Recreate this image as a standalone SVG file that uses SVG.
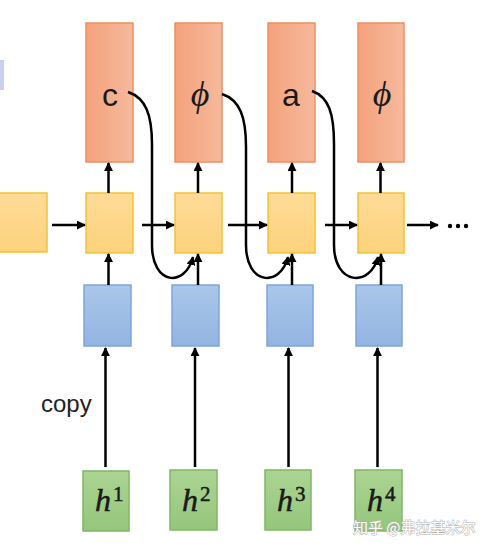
<svg xmlns="http://www.w3.org/2000/svg" width="482" height="547" viewBox="0 0 482 547">
<defs>
<linearGradient id="gOr" x1="0" y1="0" x2="1" y2="0"><stop offset="0" stop-color="#f4a27c"/><stop offset="1" stop-color="#f6b99c"/></linearGradient>
<linearGradient id="gYe" x1="0" y1="0" x2="0" y2="1"><stop offset="0" stop-color="#fedb97"/><stop offset="1" stop-color="#fdd27c"/></linearGradient>
<linearGradient id="gBl" x1="0" y1="0" x2="0" y2="1"><stop offset="0" stop-color="#aac7eb"/><stop offset="1" stop-color="#92b4e1"/></linearGradient>
<linearGradient id="gGr" x1="0" y1="0" x2="0" y2="1"><stop offset="0" stop-color="#acd493"/><stop offset="1" stop-color="#94c67b"/></linearGradient>
<marker id="ah" viewBox="0 0 10 10" refX="9" refY="5" markerWidth="9" markerHeight="9" markerUnits="userSpaceOnUse" orient="auto"><path d="M0,0 L10,5 L0,10 Z" fill="#000"/></marker>
</defs>
<style>
.or{fill:url(#gOr);stroke:#f08e5e;stroke-width:1.5}
.ye{fill:url(#gYe);stroke:#f6c232;stroke-width:1.5}
.bl{fill:url(#gBl);stroke:#7ea6da;stroke-width:1.5}
.gr{fill:url(#gGr);stroke:#7fb763;stroke-width:1.5}
.ln{fill:none;stroke:#000;stroke-width:2.5;marker-end:url(#ah)}
.cv{fill:none;stroke:#000;stroke-width:2.5;marker-end:url(#ah)}
.lab{font-family:"Liberation Sans",Arial,sans-serif;font-size:32px;fill:#1a1a1a;text-anchor:middle}
.phi{font-family:"Liberation Serif","DejaVu Serif",serif;font-style:italic;font-size:36px;fill:#1a1a1a;text-anchor:middle}
.h{font-family:"Liberation Serif","DejaVu Serif",serif;font-style:italic;font-size:32px;fill:#1a1a1a;stroke:#1a1a1a;stroke-width:0.5}
.sup{font-family:"Liberation Serif","DejaVu Serif",serif;font-style:normal;font-size:21px}
</style>
<rect width="482" height="547" fill="#fff"/>
<rect x="0" y="60" width="4" height="30" fill="#c9d1f2"/>

<g id="out1"><rect class="or" x="86" y="23" width="47" height="139"/><text class="lab" x="110" y="106">c</text></g>
<g id="out2"><rect class="or" x="175" y="23" width="47" height="139"/><text class="phi" x="200" y="106">ϕ</text></g>
<g id="out3"><rect class="or" x="268" y="23" width="47" height="139"/><text class="lab" x="291" y="106">a</text></g>
<g id="out4"><rect class="or" x="358" y="23" width="46" height="139"/><text class="phi" x="382" y="106">ϕ</text></g>

<g id="h0"><rect class="ye" x="-1" y="193" width="48" height="59"/></g>
<g id="h1"><rect class="ye" x="86" y="193" width="47" height="60"/></g>
<g id="h2"><rect class="ye" x="175" y="193" width="47" height="60"/></g>
<g id="h3"><rect class="ye" x="268" y="193" width="47" height="60"/></g>
<g id="h4"><rect class="ye" x="358" y="193" width="46" height="60"/></g>

<g id="in1"><rect class="bl" x="84" y="285" width="47" height="61"/></g>
<g id="in2"><rect class="bl" x="172" y="285" width="47" height="61"/></g>
<g id="in3"><rect class="bl" x="267" y="285" width="46" height="61"/></g>
<g id="in4"><rect class="bl" x="356" y="285" width="46" height="61"/></g>

<g id="enc1"><rect class="gr" x="83" y="471" width="46" height="60"/><text class="h" x="95" y="511">h<tspan class="sup" dx="2" dy="-10">1</tspan></text></g>
<g id="enc2"><rect class="gr" x="170" y="470" width="47" height="60"/><text class="h" x="182" y="511">h<tspan class="sup" dx="2" dy="-10">2</tspan></text></g>
<g id="enc3"><rect class="gr" x="265" y="470" width="46" height="60"/><text class="h" x="277" y="511">h<tspan class="sup" dx="2" dy="-10">3</tspan></text></g>
<g id="enc4"><rect class="gr" x="355" y="470" width="47" height="61"/><text class="h" x="367" y="511">h<tspan class="sup" dx="2" dy="-10">4</tspan></text></g>

<g id="connectors">
<line class="ln" x1="108.5" y1="193" x2="108.5" y2="163"/>
<line class="ln" x1="198" y1="193" x2="198" y2="163"/>
<line class="ln" x1="292" y1="193" x2="292" y2="163"/>
<line class="ln" x1="380.5" y1="193" x2="380.5" y2="163"/>

<line class="ln" x1="108.5" y1="285" x2="108.5" y2="254"/>
<line class="ln" x1="198" y1="285" x2="198" y2="254"/>
<line class="ln" x1="292" y1="285" x2="292" y2="254"/>
<line class="ln" x1="381" y1="285" x2="381" y2="254"/>

<line class="ln" x1="105.5" y1="467" x2="105.5" y2="348"/>
<line class="ln" x1="195" y1="467" x2="195" y2="348"/>
<line class="ln" x1="288.5" y1="467" x2="288.5" y2="348"/>
<line class="ln" x1="377.5" y1="467" x2="377.5" y2="348"/>

<line class="ln" x1="52" y1="225" x2="85" y2="225"/>
<line class="ln" x1="142" y1="225" x2="174" y2="225"/>
<line class="ln" x1="228" y1="225" x2="267" y2="225"/>
<line class="ln" x1="325" y1="225" x2="357" y2="225"/>
<line class="ln" x1="407" y1="225" x2="438" y2="225"/>

<path class="cv" d="M128,92 C146,98 152,115 152,145 L152,245 C152,285 185,288 193,257"/>
<path class="cv" d="M222,94 C240,100 246,117 246,147 L246,245 C246,285 280,288 288,257"/>
<path class="cv" d="M312,91 C329,97 334,114 334,144 L334,245 C334,285 370,288 378,257"/>

<circle cx="450" cy="226" r="2.2" fill="#000"/>
<circle cx="458" cy="226" r="2.2" fill="#000"/>
<circle cx="466" cy="226" r="2.2" fill="#000"/>
</g>

<text x="41" y="412" font-family="Liberation Sans,Arial,sans-serif" font-size="24" fill="#222">copy</text>
<text x="353" y="533" font-family="'Noto Sans CJK SC',sans-serif" font-size="15" fill="#fff" stroke="#b0b0b0" stroke-width="1" paint-order="stroke">知乎 @弗拉基米尔</text>
</svg>
